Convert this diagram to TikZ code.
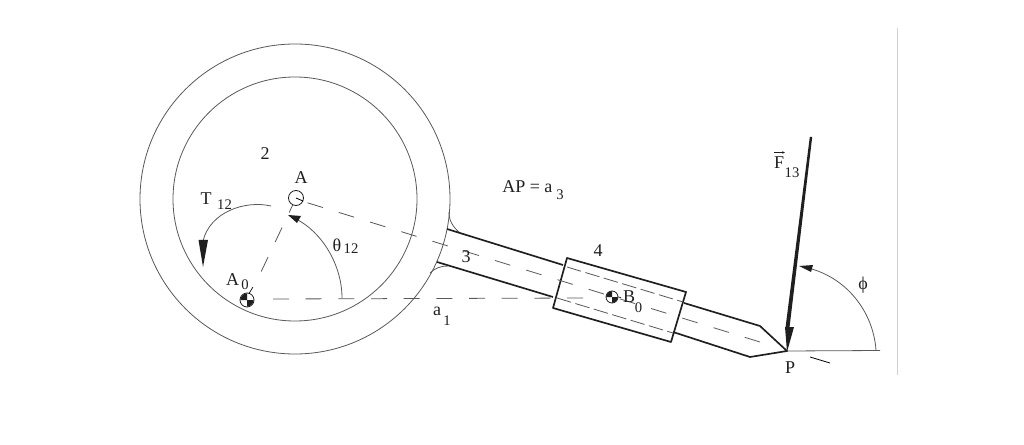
\documentclass[tikz,border=0pt]{standalone}
\usepackage{fontspec}
\setmainfont{Liberation Serif}
\usetikzlibrary{arrows.meta}
\definecolor{ink}{gray}{0.12}
\definecolor{thin}{gray}{0.35}
\tikzset{
  x=0.75pt,y=-0.75pt,
  wheel/.style={draw=thin,line width=0.6pt},
  rod/.style={draw=ink,line width=1.25pt,line join=round},
  axis/.style={draw=thin,line width=0.6pt,dash pattern=on 12pt off 12.5pt},
  blockaxis/.style={draw=thin,line width=0.6pt,dash pattern=on 11pt off 3.4pt},
  sweep/.style={draw=thin,line width=0.6pt},
  tag/.style={inner sep=0pt,text=ink,font=\fontsize{13.5pt}{14pt}\selectfont},
  sub/.style={inner sep=0pt,text=ink,font=\fontsize{11pt}{12pt}\selectfont},
  head/.style={fill=ink,draw=none},
  pin/.style={draw=ink,line width=0.6pt,fill=white,circle,inner sep=0pt,minimum size=#1},
}
\newcommand{\ground}[2]{%
  \fill[ink] (#1) -- ++(#2,0) arc[start angle=0,end angle=90,radius=#2] -- cycle;
  \fill[ink] (#1) -- ++(-#2,0) arc[start angle=180,end angle=270,radius=#2] -- cycle;
}
\begin{document}
\begin{tikzpicture}
\useasboundingbox (0,0) rectangle (1024,445);
\fill[white] (0,0) rectangle (1024,445);
% coordinates
\coordinate (C) at (295,199);
\coordinate (P) at (787,351);
\coordinate (U1) at (447,229);
\coordinate (U2) at (563,265);
\coordinate (L1) at (437,262);
\coordinate (L2) at (553,297);
\coordinate (B1) at (567,258);
\coordinate (B2) at (686,292);
\coordinate (B3) at (671,342);
\coordinate (B4) at (553,308);
\coordinate (U3) at (684,303);
\coordinate (U4) at (760,326);
\coordinate (L3) at (673,332);
\coordinate (L4) at (750,357);
% frame line
\draw[gray!35,line width=0.9pt] (897.5,28) -- (897.5,375);
% wheel
\draw[wheel] (C) circle[radius=155];
\draw[wheel] (C) circle[radius=122];
% fillets
\draw[wheel] (449,212) .. controls (449,221) and (453,227) .. (460,233);
\draw[wheel] (430,273) .. controls (435,268) and (441,266) .. (448,266);
% rod
\draw[rod] (U1) -- (U2);
\draw[rod] (L1) -- (L2);
\draw[rod] (B1) -- (B2) -- (B3) -- (B4) -- cycle;
\draw[rod] (U3) -- (U4) -- (P) -- (L4) -- (L3);
% dashed axes
\draw[axis] (760,342) -- (300,200.5);
\draw[thin,line width=0.6pt] (810,357) -- (830,363);
\draw[blockaxis] (567,267) -- (683,302);
\draw[blockaxis] (557,298) -- (673,333);
\draw[axis] (273,299) -- (587,298);
\draw[axis] (296,198) -- (261,272);
% torque arc
\draw[sweep] (271,206) .. controls (245,200) and (210,212) .. (203,241);
\fill[head] (198.5,240) -- (208,240) -- (203,267) -- cycle;
% theta arc
\draw[sweep] (342,298) .. controls (342,265) and (322,232) .. (296,219);
\fill[head] (288,215) -- (301,216) -- (297,223) -- cycle;
% phi arc
\draw[sweep] (876,350) .. controls (873,310) and (845,277) .. (808,268);
\fill[head] (799,266) -- (813,265) -- (811,272) -- cycle;
\draw[sweep] (P) -- (880,350.5);
% force
\fill[ink] (809.8,137) -- (812.2,137) -- (789.2,330) -- (785.2,330) -- cycle;
\fill[ink] (785,327) -- (794,327) -- (787,352) -- cycle;
% pins
\node[pin=15pt*0.75] (Apin) at (296,198) {};
\draw[thin,line width=0.6pt] (Apin.center) -- (303,201);
\node[pin=14pt*0.75] (A0pin) at (247,300) {};
\ground{A0pin.center}{6.5}
\draw[thin,line width=0.5pt] (249,293.5) -- (253,287);
\node[pin=12pt*0.75] (B0pin) at (612,297) {};
\ground{B0pin.center}{5.8}
\draw[thin,line width=0.5pt] (B0pin.east) -- (621,297.5);
% labels
\node[tag] (n2) at (265,154) {2};
\node[tag] (nA) at (301,178) {A};
\node[tag] (nT) at (206,199) {T};
\node[sub] (nT12) at (224.5,205) {12};
\node[tag] (nth) at (337,245) {θ};
\node[sub] (nth12) at (351,249) {12};
\node[tag] (nA0) at (232.5,280) {A};
\node[sub] (nA00) at (245,285) {0};
\node[tag] (na) at (437,311) {a};
\node[sub] (na1) at (447,321) {1};
\node[tag,anchor=west] (nAP) at (502,187) {AP = a};
\node[sub] (na3) at (560,195) {3};
\node[tag] (n3) at (466,257) {3};
\node[tag] (n4) at (598,251) {4};
\node[tag] (nB) at (629,297) {B};
\node[sub] (nB0) at (638.5,308) {0};
\node[tag] (nF) at (779,163) {F};
\draw[ink,line width=0.5pt,-{Latex[length=2pt,width=2pt]}] (774,152.5) -- (785,152.5);
\node[sub] (nF13) at (792,173) {13};
\node[tag] (nphi) at (863,285) {ϕ};
\node[tag] (nP) at (790,368) {P};
\end{tikzpicture}
\end{document}
